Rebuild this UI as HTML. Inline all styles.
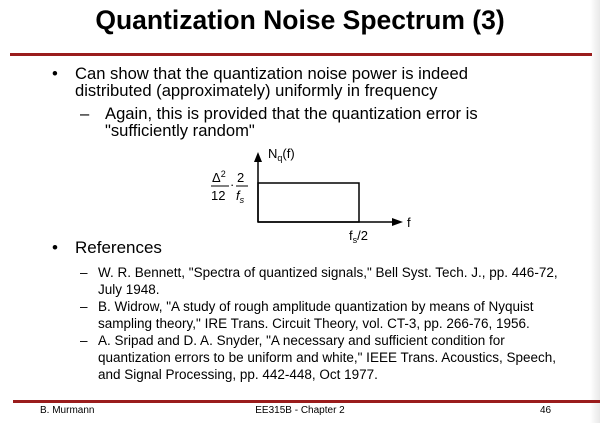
<!DOCTYPE html>
<html><head><style>
body{margin:0;width:600px;height:423px;background:#fff;position:relative;overflow:hidden;font-family:"Liberation Sans",sans-serif;color:#000}
.a{position:absolute;white-space:nowrap}
</style></head><body>
<div class="a" style="right:0;top:0;width:10px;height:423px;background:linear-gradient(to right,#fff,#e8e8e8)"></div>
<div class="a" style="left:0;width:600px;top:5px;text-align:center;font-weight:bold;font-size:26.5px">Quantization Noise Spectrum (3)</div>
<div class="a" style="left:10px;top:53px;width:582px;height:3px;background:#9a1c1c"></div>
<div class="a" style="left:52px;top:65px;font-size:16.6px;line-height:17px">•</div>
<div class="a" style="left:75px;top:65px;font-size:16.6px;line-height:17px">Can show that the quantization noise power is indeed<br>distributed (approximately) uniformly in frequency</div>
<div class="a" style="left:80px;top:105px;font-size:16.6px;line-height:17px">–</div>
<div class="a" style="left:105px;top:105px;font-size:16.6px;line-height:17px">Again, this is provided that the quantization error is<br>"sufficiently random"</div>
<svg class="a" style="left:0;top:0" width="600" height="423">
<line x1="258" y1="222" x2="258" y2="160" stroke="#000" stroke-width="1.5"/>
<polygon points="254,162 262,162 258,152" fill="#000"/>
<line x1="258" y1="222" x2="393" y2="222" stroke="#000" stroke-width="1.5"/>
<polygon points="392,218 392,226 403,222" fill="#000"/>
<rect x="258" y="183" width="101" height="39" fill="none" stroke="#000" stroke-width="1.5"/>
<line x1="211" y1="186" x2="229" y2="186" stroke="#000" stroke-width="1"/>
<line x1="236" y1="186" x2="248" y2="186" stroke="#000" stroke-width="1"/>
<text x="212" y="182" font-size="13" font-family="Liberation Sans">Δ<tspan font-size="9" dy="-5">2</tspan></text>
<text x="230" y="189" font-size="13" font-family="Liberation Sans">·</text>
<text x="237" y="182" font-size="13" font-family="Liberation Sans">2</text>
<text x="211" y="200" font-size="13" font-family="Liberation Sans">12</text>
<text x="236" y="200" font-size="13" font-style="italic" font-family="Liberation Sans">f<tspan font-size="9" dy="3">s</tspan></text>
<text x="268" y="158" font-size="13" font-family="Liberation Sans">N<tspan font-size="9" dy="3">q</tspan><tspan dy="-3">(f)</tspan></text>
<text x="407" y="227" font-size="13" font-family="Liberation Sans">f</text>
<text x="349" y="240" font-size="13" font-family="Liberation Sans">f<tspan font-size="9" dy="3">s</tspan><tspan dy="-3">/2</tspan></text>
</svg>
<div class="a" style="left:52px;top:238px;font-size:17px">•</div>
<div class="a" style="left:75px;top:238px;font-size:17px">References</div>
<div class="a" style="left:80px;top:264px;font-size:13.5px;line-height:17px">–<br><br>–<br><br>–</div>
<div class="a" style="left:98px;top:264px;font-size:13.5px;line-height:17px">W. R. Bennett, "Spectra of quantized signals," Bell Syst. Tech. J., pp. 446-72,<br>July 1948.<br>B. Widrow, "A study of rough amplitude quantization by means of Nyquist<br>sampling theory," IRE Trans. Circuit Theory, vol. CT-3, pp. 266-76, 1956.<br>A. Sripad and D. A. Snyder, "A necessary and sufficient condition for<br>quantization errors to be uniform and white," IEEE Trans. Acoustics, Speech,<br>and Signal Processing, pp. 442-448, Oct 1977.</div>
<div class="a" style="left:13px;top:400px;width:587px;height:3px;background:#9a1c1c"></div>
<div class="a" style="left:40px;top:405px;font-size:10px">B. Murmann</div>
<div class="a" style="left:0;width:600px;text-align:center;top:405px;font-size:10px">EE315B - Chapter 2</div>
<div class="a" style="left:540px;top:405px;font-size:10px">46</div>
</body></html>
